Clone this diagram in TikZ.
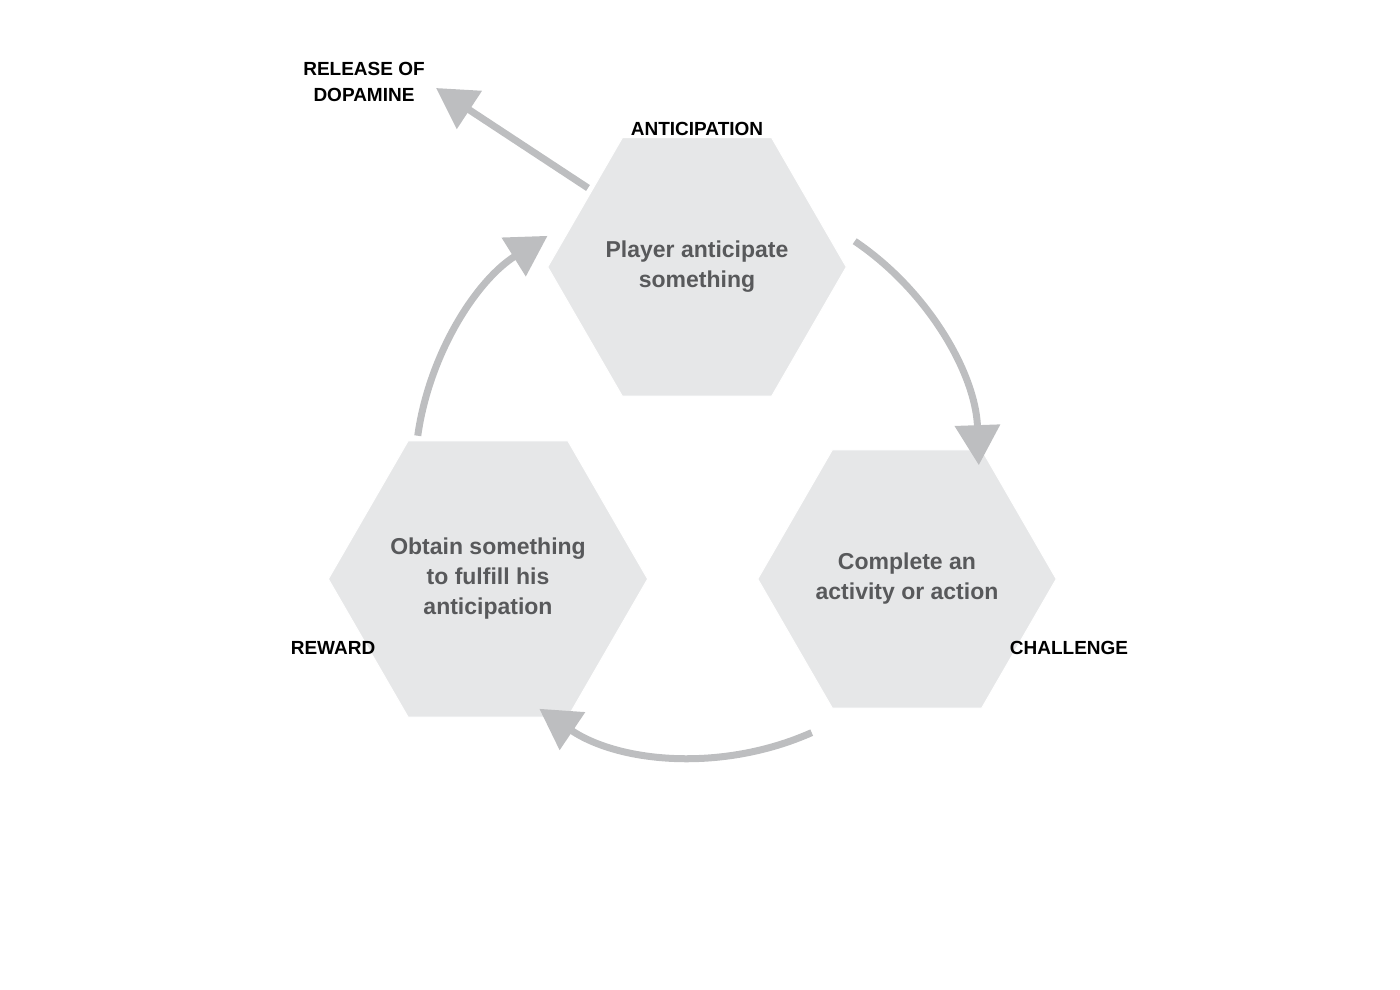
\documentclass[tikz,border=0pt]{standalone}
\usepackage{fontspec}
\setmainfont{Liberation Sans}
\usetikzlibrary{shapes.geometric,arrows.meta,positioning}
\definecolor{hexfill}{HTML}{E6E7E8}
\definecolor{hextext}{HTML}{58595B}
\definecolor{arrowgray}{HTML}{BDBEC0}
\tikzset{
  hexstep/.style={regular polygon, regular polygon sides=6, minimum size=250pt,
    inner sep=0pt, fill=hexfill, draw=white, line width=1pt, align=center,
    text=hextext, font=\fontsize{23}{30}\selectfont\bfseries},
  phase/.style={font=\fontsize{19}{26}\selectfont\bfseries, align=center},
  loop arrow/.style={draw=arrowgray, line width=7pt,
    -{Triangle[width=44pt,length=40pt]}}
}
\begin{document}
\begin{tikzpicture}[x=1pt,y=1pt]
  \useasboundingbox (0,0) rectangle (1400,990);

  \node[hexstep] (antic) at (697,723) {Player anticipate\\something};
  \node[hexstep] (reward) at (488,411) {Obtain something\\to fulfill his\\anticipation};
  \node[hexstep] (chall) at (907,411) {Complete an\\activity or action};

  \node[phase] (l-antic) at (697,861) {ANTICIPATION};
  \node[phase] (l-dopa) at (364,908) {RELEASE OF\\DOPAMINE};
  \node[phase] (l-reward) at (333,342) {REWARD};
  \node[phase] (l-chall) at (1069,342) {CHALLENGE};

  \coordinate (mid) at (697,515);
  \coordinate (dopa-start) at (588,802);
  \coordinate (dopa-end) at (436,902);

  % cycle arrows
  \draw[loop arrow] ([shift={(56:282)}]mid) arc[start angle=56, end angle=2, radius=282];
  \draw[loop arrow] ([shift={(-66:282)}]mid) arc[start angle=-66, end angle=-124, radius=282];
  \draw[loop arrow] ([shift={(172:282)}]mid) arc[start angle=172, end angle=122, radius=282];

  \draw[loop arrow] (dopa-start) -- (dopa-end);
\end{tikzpicture}
\end{document}
